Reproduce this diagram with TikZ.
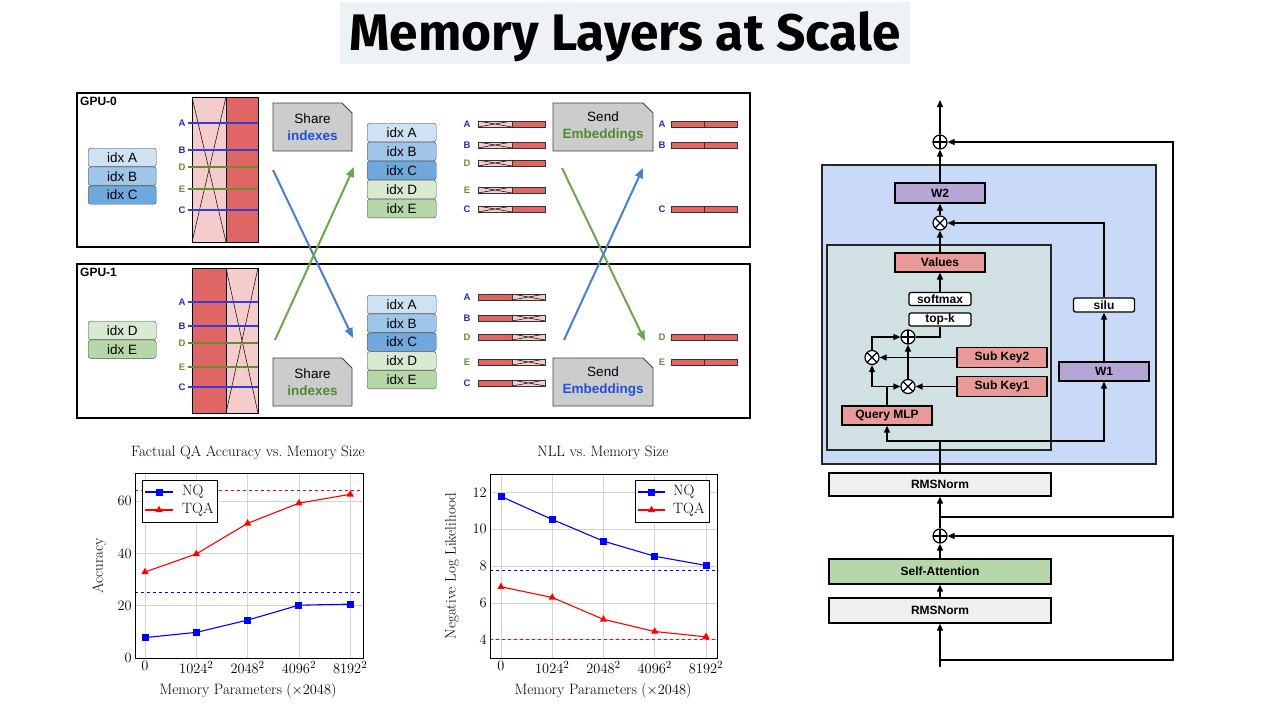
\documentclass[tikz,border=0pt]{standalone}
\usepackage{fontspec}
\newfontfamily\arialfont{Liberation Sans}
\newfontfamily\titlefont{Fira Sans}
\usetikzlibrary{positioning,arrows.meta,shapes.misc}

\definecolor{idxA}{HTML}{CFE2F3}
\definecolor{idxB}{HTML}{9FC5E8}
\definecolor{idxC}{HTML}{6FA8DC}
\definecolor{idxD}{HTML}{D9EAD3}
\definecolor{idxE}{HTML}{B6D7A8}
\definecolor{cellpink}{HTML}{F4CCCC}
\definecolor{cellred}{HTML}{E06666}
\definecolor{labblue}{HTML}{2A2AB0}
\definecolor{labgreen}{HTML}{6A8F3A}
\definecolor{lineblue}{HTML}{3A3AD8}
\definecolor{linegreen}{HTML}{6B8A2E}
\definecolor{txtblue}{HTML}{2050D8}
\definecolor{txtgreen}{HTML}{4F8A2E}
\definecolor{arrblue}{HTML}{4A80C8}
\definecolor{arrgreen}{HTML}{6AA84F}
\definecolor{memblue}{HTML}{C9DAF8}
\definecolor{memteal}{HTML}{D0E0E3}
\definecolor{wpurple}{HTML}{B4A7D6}
\definecolor{keyred}{HTML}{EA9999}
\definecolor{normgray}{HTML}{EFEFEF}
\definecolor{attgreen}{HTML}{B6D7A8}
\definecolor{titlebg}{HTML}{EEF2F7}
\definecolor{gridgray}{HTML}{D4D4D4}

% embedding cells: x left, y centre, x right
\newcommand{\crosscell}[3]{%
  \fill[cellpink] (#1,#2-3) rectangle (#3,#2+3);
  \draw[line width=0.5pt] (#1,#2-3) -- (#3,#2+3) (#1,#2+3) -- (#3,#2-3);
  \draw[line width=0.7pt, black!80] (#1,#2-3) rectangle (#3,#2+3);}
\newcommand{\fullcell}[3]{%
  \filldraw[fill=cellred, draw=black!80, line width=0.7pt] (#1,#2-3) rectangle (#3,#2+3);}
% plot marks
\newcommand{\sqmark}[2]{\fill[blue] (#1,#2) ++(-3.5pt,-3.5pt) rectangle ++(7pt,7pt);}
\newcommand{\trimark}[2]{\fill[red] (#1,#2) ++(0pt,4.2pt) -- ++(-3.7pt,-6.4pt) -- ++(7.4pt,0pt) -- cycle;}

\tikzset{
  gpubox/.style={draw=black, line width=1.8pt},
  idxbox/.style={draw=black!70, fill=#1, rounded corners=2.5pt, minimum width=68pt,
    minimum height=18.4pt, inner sep=0pt, font=\arialfont\fontsize{13.5}{13.5}\selectfont},
  gpulabel/.style={font=\arialfont\bfseries\fontsize{12}{12}\selectfont, anchor=north west, inner sep=0pt},
  rowlabel/.style={font=\arialfont\bfseries\fontsize{9.5}{9.5}\selectfont, inner sep=0pt},
  notebox/.style={chamfered rectangle, chamfered rectangle corners=north east,
    chamfered rectangle sep=5pt, draw=black!75, fill=black!20, line width=0.8pt,
    minimum width=79pt, minimum height=48pt, inner sep=0pt, align=center,
    font=\arialfont\fontsize{13.5}{17}\selectfont},
  crossarrow/.style={line width=2pt, -{Triangle[length=10pt,width=8pt]}},
  blk/.style={draw=black, line width=1.3pt, minimum height=20pt, inner sep=0pt,
    font=\arialfont\bfseries\fontsize{12}{12}\selectfont},
  smallop/.style={draw=black, fill=white, rounded corners=2pt, line width=1.3pt,
    minimum width=62pt, minimum height=13pt, inner sep=0pt,
    font=\arialfont\bfseries\fontsize{12}{12}\selectfont},
  opcirc/.style={circle, draw=black, fill=white, line width=1.2pt, minimum size=14pt, inner sep=0pt},
  oplus/.style={opcirc, path picture={\draw[line width=1.2pt]
    (path picture bounding box.north) -- (path picture bounding box.south)
    (path picture bounding box.west) -- (path picture bounding box.east);}},
  otimes/.style={opcirc, path picture={\draw[line width=1.2pt]
    (path picture bounding box.north west) -- (path picture bounding box.south east)
    (path picture bounding box.north east) -- (path picture bounding box.south west);}},
  flow/.style={line width=1.3pt, -{Triangle[length=7pt,width=6pt]}},
  wire/.style={line width=1.3pt},
  charttext/.style={font=\fontsize{15}{15}\selectfont, inner sep=0pt},
  ticklabel/.style={font=\fontsize{15}{15}\selectfont, inner sep=3pt},
}

\begin{document}
\begin{tikzpicture}[x=1pt, y=-1pt]
\useasboundingbox (0,0) rectangle (1280,720);
\fill[white] (0,0) rectangle (1280,720);

% title
\fill[titlebg] (340,2) rectangle (910,64);
\node[font=\titlefont\bfseries\fontsize{51.4}{51.4}\selectfont, anchor=base, inner sep=0pt] (title) at (625,50) {Memory Layers at Scale};

%%%%%%%%%%%%%%%% GPU-0 %%%%%%%%%%%%%%%%
\draw[gpubox] (77,93) rectangle (750,247);
\node[gpulabel] (gpu0) at (80,97) {GPU-0};
\node[idxbox=idxA, anchor=north west] (g0a) at (88,148) {idx A};
\node[idxbox=idxB, below=0pt of g0a] (g0b) {idx B};
\node[idxbox=idxC, below=0pt of g0b] (g0c) {idx C};

% memory table
\fill[cellpink] (192,97) rectangle (226,242);
\fill[cellred] (226,97) rectangle (258,242);
\draw[line width=0.5pt] (192,97) -- (226,242) (226,97) -- (192,242);
\draw[line width=0.7pt] (192,97) rectangle (258,242) (226,97) -- (226,242);
\foreach \l/\y/\c in {A/123/blue, B/150/blue, D/167/green, E/189/green, C/210/blue} {
  \draw[draw=line\c, line width=1.2pt] (188,\y) -- (258,\y);
  \node[rowlabel, text=lab\c] (t0\l) at (182,\y) {\l};
}

\node[notebox] (share0) at (312.5,127) {Share\\\textbf{\textcolor{txtblue}{indexes}}};

\node[idxbox=idxA, anchor=north west, minimum width=69pt, minimum height=18.6pt] (m0a) at (367,123) {idx A};
\node[idxbox=idxB, minimum width=69pt, minimum height=18.6pt, below=0pt of m0a] (m0b) {idx B};
\node[idxbox=idxC, minimum width=69pt, minimum height=18.6pt, below=0pt of m0b] (m0c) {idx C};
\node[idxbox=idxD, minimum width=69pt, minimum height=18.6pt, below=0pt of m0c] (m0d) {idx D};
\node[idxbox=idxE, minimum width=69pt, minimum height=18.6pt, below=0pt of m0d] (m0e) {idx E};

% looked-up embeddings
\foreach \l/\y/\c in {A/124/blue, B/145/blue, D/163/green, E/190/green, C/209/blue} {
  \node[rowlabel, text=lab\c] (e0\l) at (467,\y) {\l};
  \crosscell{478}{\y}{512}
  \fullcell{512}{\y}{545}
}

\node[notebox, minimum width=100pt] (send0) at (603,127) {Send\\\textbf{\textcolor{txtgreen}{Embeddings}}};

\foreach \l/\y in {A/124, B/145, C/209} {
  \node[rowlabel, text=labblue] (r0\l) at (662,\y) {\l};
  \fullcell{671}{\y}{704}
  \fullcell{704}{\y}{737}
}

%%%%%%%%%%%%%%%% GPU-1 %%%%%%%%%%%%%%%%
\draw[gpubox] (77,264) rectangle (750,418);
\node[gpulabel] (gpu1) at (80,268) {GPU-1};
\node[idxbox=idxD, anchor=north west] (g1d) at (88,321) {idx D};
\node[idxbox=idxE, below=0pt of g1d] (g1e) {idx E};

\fill[cellred] (192,268) rectangle (226,413);
\fill[cellpink] (226,268) rectangle (258,413);
\draw[line width=0.5pt] (226,268) -- (258,413) (258,268) -- (226,413);
\draw[line width=0.7pt] (192,268) rectangle (258,413) (226,268) -- (226,413);
\foreach \l/\y/\c in {A/302/blue, B/326/blue, D/343/green, E/367/green, C/387/blue} {
  \draw[draw=line\c, line width=1.2pt] (188,\y) -- (258,\y);
  \node[rowlabel, text=lab\c] (t1\l) at (182,\y) {\l};
}

\node[notebox] (share1) at (312.5,382) {Share\\\textbf{\textcolor{txtgreen}{indexes}}};

\node[idxbox=idxA, anchor=north west, minimum width=69pt, minimum height=18.4pt] (m1a) at (367,295) {idx A};
\node[idxbox=idxB, minimum width=69pt, minimum height=18.4pt, below=0pt of m1a] (m1b) {idx B};
\node[idxbox=idxC, minimum width=69pt, minimum height=18.4pt, below=0pt of m1b] (m1c) {idx C};
\node[idxbox=idxD, minimum width=69pt, minimum height=18.4pt, below=0pt of m1c] (m1d) {idx D};
\node[idxbox=idxE, minimum width=69pt, minimum height=18.4pt, below=0pt of m1d] (m1e) {idx E};

\foreach \l/\y/\c in {A/297/blue, B/318/blue, D/337/green, E/362/green, C/383/blue} {
  \node[rowlabel, text=lab\c] (e1\l) at (467,\y) {\l};
  \fullcell{478}{\y}{512}
  \crosscell{512}{\y}{545}
}

\node[notebox, minimum width=100pt] (send1) at (603,382) {Send\\\textbf{\textcolor{txtblue}{Embeddings}}};

\foreach \l/\y in {D/337, E/362} {
  \node[rowlabel, text=labgreen] (r1\l) at (662,\y) {\l};
  \fullcell{671}{\y}{704}
  \fullcell{704}{\y}{737}
}

% exchange arrows between the GPUs
\coordinate (ia0) at (273,170); \coordinate (ib0) at (353,338);
\coordinate (ia1) at (275,340); \coordinate (ib1) at (354,167);
\coordinate (ea0) at (562,168); \coordinate (eb0) at (645,341);
\coordinate (ea1) at (564,340); \coordinate (eb1) at (643,168);
\draw[crossarrow, arrblue] (ia0) -- (ib0);
\draw[crossarrow, arrgreen] (ia1) -- (ib1);
\draw[crossarrow, arrgreen] (ea0) -- (eb0);
\draw[crossarrow, arrblue] (ea1) -- (eb1);

%%%%%%%%%%%%%%%% accuracy chart %%%%%%%%%%%%%%%%
\node[charttext] (acctitle) at (248,453) {Factual QA Accuracy vs.\ Memory Size};
\node[charttext, rotate=90] (accylab) at (99,566) {Accuracy};
\node[charttext] (accxlab) at (248,691) {Memory Parameters ($\times 2048$)};
\begin{scope}[xshift=145pt, yshift=-658pt, x=51.3pt, y=2.615pt]
  \foreach \i in {0,...,4} \draw[gridgray, line width=0.6pt] (\i,0) -- (\i,70.7);
  \foreach \v in {20,40,60} \draw[gridgray, line width=0.6pt] (-0.195,\v) -- (4.25,\v);
  \draw[red, dashed, line width=1pt] (-0.195,64.2) -- (4.25,64.2);
  \draw[blue, dashed, line width=1pt] (-0.195,25.1) -- (4.25,25.1);
  \draw[blue, line width=1.1pt] (0,7.8) -- (1,9.8) -- (2,14.5) -- (3,20.2) -- (4,20.6);
  \draw[red, line width=1.1pt] (0,32.9) -- (1,39.8) -- (2,51.5) -- (3,59.2) -- (4,62.6);
  \foreach \i/\v in {0/7.8, 1/9.8, 2/14.5, 3/20.2, 4/20.6} {\sqmark{\i}{\v}}
  \foreach \i/\v in {0/32.9, 1/39.8, 2/51.5, 3/59.2, 4/62.6} {\trimark{\i}{\v}}
  \draw[line width=0.8pt] (-0.195,0) rectangle (4.25,70.7);
  \foreach \v in {0,20,40,60} \node[ticklabel, anchor=east] (accy\v) at (-0.195,\v) {$\v$};
  \foreach \i/\lab in {0/$0$, 1/$1024^2$, 2/$2048^2$, 3/$4096^2$, 4/$8192^2$}
    \node[ticklabel, anchor=north] (accx\i) at (\i,0) {\lab};
\end{scope}
% legend
\filldraw[fill=white, draw=black, line width=0.8pt] (142,480) rectangle (217,522);
\draw[blue, line width=1.1pt] (145,492) -- (173,492);
\sqmark{159}{492}
\node[charttext, anchor=west] (accnq) at (182,492) {NQ};
\draw[red, line width=1.1pt] (145,510) -- (173,510);
\trimark{159}{510}
\node[charttext, anchor=west] (acctqa) at (182,510) {TQA};

%%%%%%%%%%%%%%%% NLL chart %%%%%%%%%%%%%%%%
\node[charttext] (nlltitle) at (603,453) {NLL vs.\ Memory Size};
\node[charttext, rotate=90] (nllylab) at (452,566) {Negative Log Likelihood};
\node[charttext] (nllxlab) at (603,691) {Memory Parameters ($\times 2048$)};
\begin{scope}[xshift=501pt, yshift=-713.2pt, x=51.25pt, y=18.4pt]
  \foreach \i in {0,...,4} \draw[gridgray, line width=0.6pt] (\i,3) -- (\i,13);
  \foreach \v in {4,6,8,10,12} \draw[gridgray, line width=0.6pt] (-0.215,\v) -- (4.215,\v);
  \draw[blue, dashed, line width=1pt] (-0.215,7.78) -- (4.215,7.78);
  \draw[red, dashed, line width=1pt] (-0.215,3.98) -- (4.215,3.98);
  \draw[blue, line width=1.1pt] (0,11.78) -- (1,10.53) -- (2,9.35) -- (3,8.53) -- (4,8.03);
  \draw[red, line width=1.1pt] (0,6.87) -- (1,6.29) -- (2,5.1) -- (3,4.44) -- (4,4.15);
  \foreach \i/\v in {0/11.78, 1/10.53, 2/9.35, 3/8.53, 4/8.03} {\sqmark{\i}{\v}}
  \foreach \i/\v in {0/6.87, 1/6.29, 2/5.1, 3/4.44, 4/4.15} {\trimark{\i}{\v}}
  \draw[line width=0.8pt] (-0.215,3) rectangle (4.215,13);
  \foreach \v in {4,6,8,10,12} \node[ticklabel, anchor=east] (nlly\v) at (-0.215,\v) {$\v$};
  \foreach \i/\lab in {0/$0$, 1/$1024^2$, 2/$2048^2$, 3/$4096^2$, 4/$8192^2$}
    \node[ticklabel, anchor=north] (nllx\i) at (\i,3) {\lab};
\end{scope}
\filldraw[fill=white, draw=black, line width=0.8pt] (635,480) rectangle (709,522);
\draw[blue, line width=1.1pt] (638,492) -- (665,492);
\sqmark{651.5}{492}
\node[charttext, anchor=west] (nllnq) at (673,492) {NQ};
\draw[red, line width=1.1pt] (638,510) -- (665,510);
\trimark{651.5}{510}
\node[charttext, anchor=west] (nlltqa) at (673,510) {TQA};

%%%%%%%%%%%%%%%% memory layer block %%%%%%%%%%%%%%%%
\filldraw[fill=memblue, draw=black!85, line width=1.3pt] (822,165) rectangle (1156,464);
\filldraw[fill=memteal, draw=black!85, line width=1.3pt] (827,245) rectangle (1051,450);

\coordinate (out) at (940,100);
\node[oplus] (addtop) at (940,142) {};
\node[blk, fill=wpurple, minimum width=90pt] (w2) at (940,193) {W2};
\node[otimes] (gate) at (940,223) {};
\node[blk, fill=keyred, minimum width=90pt, minimum height=19pt] (values) at (940,262.5) {Values};
\node[smallop] (softmax) at (940,299) {softmax};
\node[smallop] (topk) at (940,319.5) {top-k};
\node[oplus] (addkey) at (908,337) {};
\node[otimes] (mulk2) at (872,357.5) {};
\node[otimes] (mulk1) at (908,386.5) {};
\node[blk, fill=keyred, minimum width=90pt] (subkey2) at (1002,357.5) {Sub Key2};
\node[blk, fill=keyred, minimum width=90pt] (subkey1) at (1002,386.5) {Sub Key1};
\node[blk, fill=keyred, minimum width=90pt, minimum height=19pt] (query) at (887,415.5) {Query MLP};
\node[blk, fill=wpurple, minimum width=90pt, minimum height=19pt] (w1) at (1104,371.5) {W1};
\node[smallop, minimum width=61pt, minimum height=14pt] (silu) at (1104,305) {silu};
\node[blk, fill=normgray, minimum width=222pt, minimum height=23pt] (norm1) at (940,484.5) {RMSNorm};
\node[oplus] (addlow) at (940,536) {};
\node[blk, fill=attgreen, minimum width=222pt, minimum height=25pt] (attn) at (940,571.5) {Self-Attention};
\node[blk, fill=normgray, minimum width=222pt, minimum height=25pt] (norm0) at (940,610.5) {RMSNorm};

\coordinate (in) at (940,667);
\coordinate (res0) at (940,660);
\coordinate (rr0) at (1173,660);
\coordinate (res1) at (940,517);
\coordinate (rr1) at (1173,517);
\coordinate (split) at (940,441);
\coordinate (qsplit) at (887,386.5);

% attention sub-block
\draw[flow] (in) -- (norm0.south);
\draw[flow] (norm0) -- (attn);
\draw[flow] (attn) -- (addlow);
\draw[flow] (res0) -- (rr0) |- (addlow);
\draw[flow] (addlow) -- (norm1);
\draw[flow] (res1) -- (rr1) |- (addtop);

% memory layer
\draw[wire] (norm1) -- (split);
\draw[flow] (split) -| (query.south);
\draw[flow] (split) -| (w1.south);
\draw[flow] (w1) -- (silu);
\draw[flow] (silu.north) |- (gate);
\draw[wire] (query.north) -- (qsplit);
\draw[flow] (qsplit) -- (mulk1);
\draw[flow] (qsplit) -| (mulk2);
\draw[flow] (subkey2) -- (mulk2);
\draw[flow] (subkey1) -- (mulk1);
\draw[flow] (mulk1) -- (addkey);
\draw[flow] (mulk2) |- (addkey);
\draw[wire] (addkey) -| (topk.south);
\draw[flow] (softmax) -- (values);
\draw[flow] (values) -- (gate);
\draw[flow] (gate) -- (w2);
\draw[flow] (w2) -- (addtop);
\draw[flow] (addtop) -- (out);

\end{tikzpicture}
\end{document}
